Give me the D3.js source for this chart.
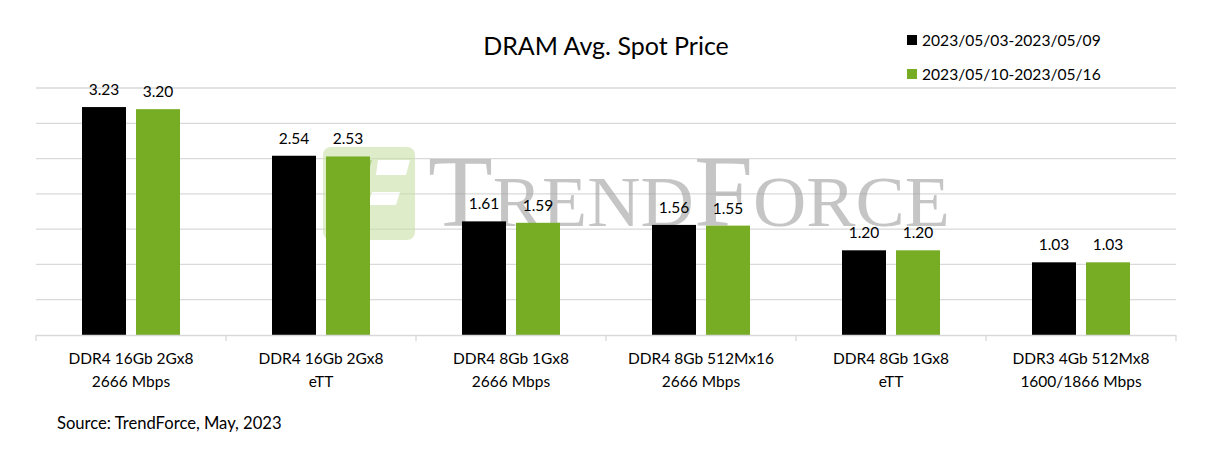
<!DOCTYPE html>
<html><head><meta charset="utf-8">
<script src="https://cdn.jsdelivr.net/npm/d3@7"></script>
<style>body{margin:0;background:#fff}svg{display:block}text{font-family:Lato,"Open Sans",sans-serif}</style>
</head><body><svg id="c" width="1214" height="450"></svg>
<script>
const categories = [
  ["DDR4 16Gb 2Gx8","2666 Mbps"],
  ["DDR4 16Gb 2Gx8","eTT"],
  ["DDR4 8Gb 1Gx8","2666 Mbps"],
  ["DDR4 8Gb 512Mx16","2666 Mbps"],
  ["DDR4 8Gb 1Gx8","eTT"],
  ["DDR3 4Gb 512Mx8","1600/1866 Mbps"]
];
const seriesNames = ["2023/05/03-2023/05/09","2023/05/10-2023/05/16"];
const week1 = [3.23, 2.54, 1.61, 1.56, 1.20, 1.03];
const week2 = [3.20, 2.53, 1.59, 1.55, 1.20, 1.03];
const yTicks = [0, 0.5, 1, 1.5, 2, 2.5, 3, 3.5];
const colors = ["#000000", "#76AD25"];

const svg = d3.select("#c");
const x = d3.scaleBand().domain(d3.range(categories.length)).range([36, 1176]).padding(0);
const y = d3.scaleLinear().domain([0, 3.5]).range([335, 88]);
const bw = 44, gap = 10;

// gridlines
svg.append("g").selectAll("line").data(yTicks.slice(1)).join("line")
  .attr("x1", 36).attr("x2", 1176).attr("y1", d => y(d)).attr("y2", d => y(d))
  .attr("stroke", "#d9d9d9").attr("stroke-width", 1.3);

// watermark
const wm = svg.append("g").attr("opacity", 0.6);
wm.append("rect").attr("x", 323).attr("y", 147).attr("width", 92).attr("height", 93).attr("rx", 8).attr("fill", "#c9e1a6");
wm.append("path").attr("d", "M329 160 L372 160 L352 230 L329 230 Z").attr("fill", "#7fb23a");
wm.append("path").attr("d", "M378 160 L410 160 L406 175 L376 175 Z M372 192 L400 192 L396 205 L368 205 Z").attr("fill", "#ffffff");
wm.append("text").attr("x", 428).attr("y", 226)
  .style("font-family", "'Liberation Serif','DejaVu Serif',serif").style("font-variant", "small-caps")
  .attr("font-size", 102).attr("fill", "#a0a0a0").attr("textLength", 522).attr("lengthAdjust", "spacingAndGlyphs")
  .text("TrendForce");

// bars
const series = [week1, week2];
series.forEach((vals, si) => {
  const g = svg.append("g");
  g.selectAll("rect").data(vals).join("rect")
    .attr("x", (d, i) => x(i) + 46 + si * (bw + gap))
    .attr("y", d => y(d)).attr("width", bw).attr("height", d => y(0) - y(d))
    .attr("fill", colors[si]);
  g.selectAll("text").data(vals).join("text")
    .attr("x", (d, i) => x(i) + 46 + si * (bw + gap) + bw / 2)
    .attr("y", d => y(d) - 12).attr("text-anchor", "middle")
    .attr("font-size", 15.5).attr("fill", "#000").text(d => d.toFixed(2));
});

// x axis
const ax = svg.append("g");
ax.append("line").attr("x1", 36).attr("x2", 1176).attr("y1", 335.5).attr("y2", 335.5).attr("stroke", "#d9d9d9").attr("stroke-width", 1.3);
ax.selectAll("line.t").data(d3.range(categories.length + 1)).join("line").attr("class", "t")
  .attr("x1", i => 36 + i * x.bandwidth()).attr("x2", i => 36 + i * x.bandwidth())
  .attr("y1", 335).attr("y2", 341).attr("stroke", "#d9d9d9").attr("stroke-width", 1.3);
const lab = ax.selectAll("text").data(categories).join("text")
  .attr("text-anchor", "middle").attr("font-size", 15.5).attr("fill", "#000");
lab.append("tspan").attr("x", (d, i) => x(i) + x.bandwidth() / 2).attr("y", 364).text(d => d[0]);
lab.append("tspan").attr("x", (d, i) => x(i) + x.bandwidth() / 2).attr("y", 387).text(d => d[1]);

// title
svg.append("text").attr("x", 606).attr("y", 55).attr("text-anchor", "middle")
  .attr("font-size", 25).attr("fill", "#000").text("DRAM Avg. Spot Price");

// legend
const lg = svg.append("g").selectAll("g").data(seriesNames).join("g")
  .attr("transform", (d, i) => `translate(907,${35 + i * 34})`);
lg.append("rect").attr("width", 10).attr("height", 10).attr("fill", (d, i) => colors[i]);
lg.append("text").attr("x", 15).attr("y", 10.5).attr("font-size", 15.6).attr("fill", "#000").text(d => d);

// source
svg.append("text").attr("x", 57).attr("y", 429).attr("font-size", 16.6).attr("fill", "#000")
  .text("Source: TrendForce, May, 2023");
</script></body></html>
